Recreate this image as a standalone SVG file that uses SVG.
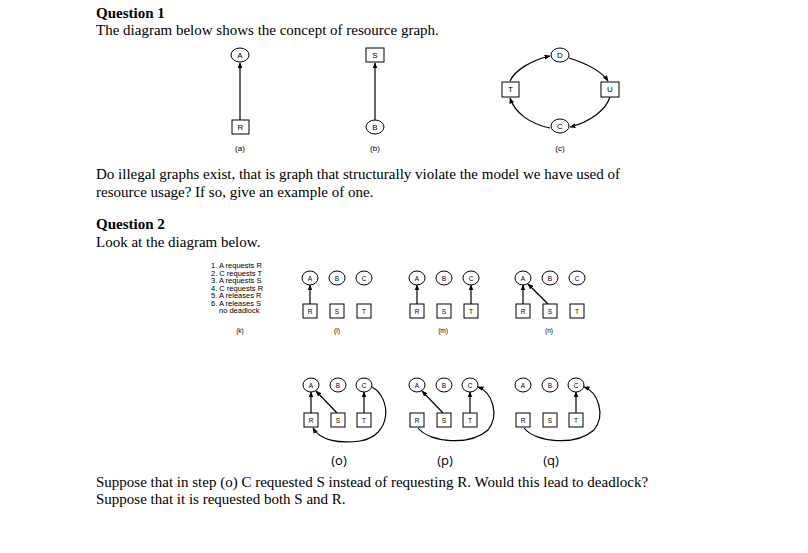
<svg xmlns="http://www.w3.org/2000/svg" width="808" height="553" viewBox="0 0 808 553">
<defs>
<marker id="ar" viewBox="0 0 10 10" refX="9" refY="5" markerWidth="5" markerHeight="5" orient="auto"><path d="M0,1 L10,5 L0,9 z" fill="#000"/></marker>
</defs>
<style>
.q{font-family:"Liberation Serif",serif;font-size:15px;font-weight:bold}
.t{font-family:"Liberation Serif",serif;font-size:15px}
.n{fill:#fff;stroke:#000;stroke-width:1}
.l{font-family:"Liberation Sans",Arial,sans-serif;font-size:8px;text-anchor:middle}
.s{font-family:"Liberation Sans",Arial,sans-serif;font-size:7.5px}
.c{font-family:"Liberation Sans",Arial,sans-serif;font-size:6.5px;text-anchor:middle}
.e{fill:none;stroke:#000;stroke-width:1.2;marker-end:url(#ar)}
.b{font-family:"Open Sans",sans-serif;font-size:13px;text-anchor:middle}
</style>
<rect width="808" height="553" fill="#fff"/>
<text class="q" x="96" y="18">Question 1</text>
<text class="t" x="96" y="35">The diagram below shows the concept of resource graph.</text>
<text class="t" x="96" y="179">Do illegal graphs exist, that is graph that structurally violate the model we have used of</text>
<text class="t" x="96" y="197">resource usage? If so, give an example of one.</text>
<text class="q" x="96" y="229">Question 2</text>
<text class="t" x="96" y="247">Look at the diagram below.</text>
<text class="t" x="96" y="487">Suppose that in step (o) C requested S instead of requesting R. Would this lead to deadlock?</text>
<text class="t" x="96" y="504">Suppose that it is requested both S and R.</text>

<g id="edges">
<line class="e" x1="240" y1="120" x2="240" y2="63"/>
<line class="e" x1="375" y1="120" x2="375" y2="63"/>
<path class="e" d="M569,58 C588,64 602,72 608,81"/>
<path class="e" d="M610,97 C606,110 590,122 570,127"/>
<path class="e" d="M550,128 C530,124 515,113 510,98"/>
<path class="e" d="M510,81 C515,70 532,60 550,56"/>
<line class="e" x1="310" y1="304" x2="310" y2="285"/>
<line class="e" x1="417" y1="304" x2="417" y2="285"/>
<line class="e" x1="471" y1="304" x2="471" y2="285"/>
<line class="e" x1="523" y1="304" x2="523" y2="285"/>
<line class="e" x1="548" y1="304" x2="528" y2="284"/>
<line class="e" x1="311" y1="413" x2="311" y2="392"/>
<line class="e" x1="337" y1="413" x2="316" y2="391"/>
<line class="e" x1="364" y1="413" x2="364" y2="392"/>
<path class="e" d="M372,387 C392,398 392,436 360,441 C338,444 320,440 313,428"/>
<line class="e" x1="443" y1="413" x2="422" y2="391"/>
<line class="e" x1="470" y1="413" x2="470" y2="392"/>
<path class="e" d="M418,428 C430,443 470,446 488,430 C500,415 492,392 478,387"/>
<line class="e" x1="576" y1="413" x2="576" y2="392"/>
<path class="e" d="M524,428 C536,443 576,446 594,430 C606,415 598,392 584,387"/>
</g>

<g id="top">
<g id="nA"><ellipse class="n" cx="240" cy="55" rx="9" ry="7"/><text class="l" x="240" y="58">A</text></g>
<g id="nR"><rect class="n" x="232" y="120" width="17" height="14"/><text class="l" x="240.5" y="130">R</text></g>
<text class="l" x="240" y="151">(a)</text>
<g id="nS"><rect class="n" x="366" y="48" width="18" height="14"/><text class="l" x="375" y="58">S</text></g>
<g id="nB"><ellipse class="n" cx="375" cy="127" rx="9" ry="7"/><text class="l" x="375" y="130">B</text></g>
<text class="l" x="375" y="151">(b)</text>
<g id="nD"><ellipse class="n" cx="560" cy="55" rx="9" ry="7"/><text class="l" x="560" y="58">D</text></g>
<g id="nT"><rect class="n" x="502" y="82" width="17" height="15"/><text class="l" x="510.5" y="92">T</text></g>
<g id="nU"><rect class="n" x="601" y="82" width="18" height="15"/><text class="l" x="610" y="92">U</text></g>
<g id="nC"><ellipse class="n" cx="560" cy="126" rx="9" ry="7"/><text class="l" x="560" y="129">C</text></g>
<text class="l" x="560" y="151">(c)</text>
</g>

<g id="list">
<text class="s" x="211" y="268">1. A requests R</text>
<text class="s" x="211" y="275.5">2. C requests T</text>
<text class="s" x="211" y="283">3. A requests S</text>
<text class="s" x="211" y="290.5">4. C requests R</text>
<text class="s" x="211" y="298">5. A releases R</text>
<text class="s" x="211" y="305.5">6. A releases S</text>
<text class="s" x="219" y="313">no deadlock</text>
<text class="c" x="240" y="333">(k)</text>
<text class="c" x="337" y="333">(l)</text>
<text class="c" x="443" y="333">(m)</text>
<text class="c" x="549" y="333">(n)</text>
</g>

<g id="row1" font-family="Liberation Sans" >
<g id="l"><ellipse class="n" cx="310" cy="278" rx="8" ry="7"/><text class="c" x="310" y="280.5">A</text><ellipse class="n" cx="337" cy="278" rx="8" ry="7"/><text class="c" x="337" y="280.5">B</text><ellipse class="n" cx="364" cy="278" rx="8" ry="7"/><text class="c" x="364" y="280.5">C</text>
<rect class="n" x="303" y="304" width="14" height="14"/><text class="c" x="310" y="313.5">R</text><rect class="n" x="330" y="304" width="14" height="14"/><text class="c" x="337" y="313.5">S</text><rect class="n" x="357" y="304" width="14" height="14"/><text class="c" x="364" y="313.5">T</text></g>
<g id="m"><ellipse class="n" cx="417" cy="278" rx="8" ry="7"/><text class="c" x="417" y="280.5">A</text><ellipse class="n" cx="444" cy="278" rx="8" ry="7"/><text class="c" x="444" y="280.5">B</text><ellipse class="n" cx="471" cy="278" rx="8" ry="7"/><text class="c" x="471" y="280.5">C</text>
<rect class="n" x="410" y="304" width="14" height="14"/><text class="c" x="417" y="313.5">R</text><rect class="n" x="437" y="304" width="14" height="14"/><text class="c" x="444" y="313.5">S</text><rect class="n" x="464" y="304" width="14" height="14"/><text class="c" x="471" y="313.5">T</text></g>
<g id="n"><ellipse class="n" cx="523" cy="278" rx="8" ry="7"/><text class="c" x="523" y="280.5">A</text><ellipse class="n" cx="550" cy="278" rx="8" ry="7"/><text class="c" x="550" y="280.5">B</text><ellipse class="n" cx="577" cy="278" rx="8" ry="7"/><text class="c" x="577" y="280.5">C</text>
<rect class="n" x="516" y="304" width="14" height="14"/><text class="c" x="523" y="313.5">R</text><rect class="n" x="543" y="304" width="14" height="14"/><text class="c" x="550" y="313.5">S</text><rect class="n" x="570" y="304" width="14" height="14"/><text class="c" x="577" y="313.5">T</text></g>
</g>

<g id="row2">
<g id="o"><ellipse class="n" cx="311" cy="385" rx="8" ry="7"/><text class="c" x="311" y="387.5">A</text><ellipse class="n" cx="338" cy="385" rx="8" ry="7"/><text class="c" x="338" y="387.5">B</text><ellipse class="n" cx="364" cy="385" rx="8" ry="7"/><text class="c" x="364" y="387.5">C</text>
<rect class="n" x="304" y="413" width="14" height="14"/><text class="c" x="311" y="422.5">R</text><rect class="n" x="331" y="413" width="14" height="14"/><text class="c" x="338" y="422.5">S</text><rect class="n" x="357" y="413" width="14" height="14"/><text class="c" x="364" y="422.5">T</text></g>
<g id="p"><ellipse class="n" cx="417" cy="385" rx="8" ry="7"/><text class="c" x="417" y="387.5">A</text><ellipse class="n" cx="444" cy="385" rx="8" ry="7"/><text class="c" x="444" y="387.5">B</text><ellipse class="n" cx="470" cy="385" rx="8" ry="7"/><text class="c" x="470" y="387.5">C</text>
<rect class="n" x="410" y="413" width="14" height="14"/><text class="c" x="417" y="422.5">R</text><rect class="n" x="437" y="413" width="14" height="14"/><text class="c" x="444" y="422.5">S</text><rect class="n" x="463" y="413" width="14" height="14"/><text class="c" x="470" y="422.5">T</text></g>
<g id="q"><ellipse class="n" cx="523" cy="385" rx="8" ry="7"/><text class="c" x="523" y="387.5">A</text><ellipse class="n" cx="550" cy="385" rx="8" ry="7"/><text class="c" x="550" y="387.5">B</text><ellipse class="n" cx="576" cy="385" rx="8" ry="7"/><text class="c" x="576" y="387.5">C</text>
<rect class="n" x="516" y="413" width="14" height="14"/><text class="c" x="523" y="422.5">R</text><rect class="n" x="543" y="413" width="14" height="14"/><text class="c" x="550" y="422.5">S</text><rect class="n" x="569" y="413" width="14" height="14"/><text class="c" x="576" y="422.5">T</text></g>
<text class="c" x="338" y="449" fill="#999">· · ·</text>
<text class="c" x="444" y="449" fill="#999">· · ·</text>
<text class="c" x="550" y="449" fill="#999">· · ·</text>
<text class="b" x="339" y="465">(o)</text>
<text class="b" x="445" y="465">(p)</text>
<text class="b" x="551" y="465">(q)</text>
</g>
</svg>
